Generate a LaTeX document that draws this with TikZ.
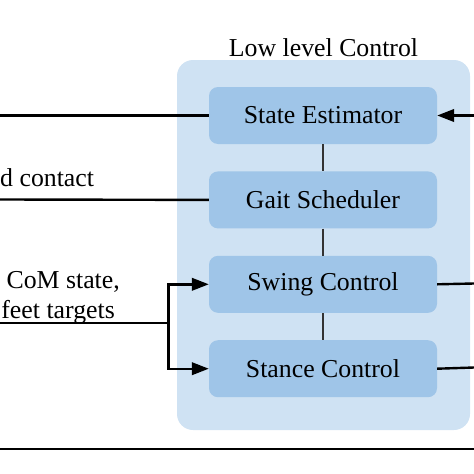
\documentclass[tikz,border=0pt]{standalone}
\usepackage{fontspec}
\setmainfont{Liberation Serif}
\usetikzlibrary{arrows.meta}
\usetikzlibrary{positioning}

\definecolor{panelblue}{HTML}{CFE2F3}
\definecolor{blockblue}{HTML}{9FC5E8}

\begin{document}
\begin{tikzpicture}[x=1pt,y=-1pt,node distance=27pt,>={Triangle[length=17pt,width=12.5pt]},
   font=\fontsize{25.8}{31}\selectfont,
   block/.style={fill=blockblue,rounded corners=9pt,minimum width=228pt,minimum height=57pt,inner sep=0pt},
   panel/.style={fill=panelblue,rounded corners=16pt,minimum width=293pt,minimum height=370pt,inner sep=0pt},
   wire/.style={line width=2.4pt},
   link/.style={line width=1.1pt,black!80}]
   \useasboundingbox (0,0) rectangle (474,474);
   \node[panel] (ctrl) at (323.5,245) {};
   \node[above=0pt of ctrl] (title) {Low level Control};
   \node[block]              (est)    at (323,115.5) {State Estimator};
   \node[block,below=of est]  (gait)   {Gait Scheduler};
   \node[block,below=of gait] (swing)  {Swing Control};
   \node[block,below=of swing] (stance) {Stance Control};
   % loose ends at the border
   \coordinate (estL)    at (0,115.5);
   \coordinate (estR)    at (474,115.5);
   \coordinate (gaitL)   at (0,199.5);
   \coordinate (tgtL)    at (0,323);
   \coordinate (split)   at (168.5,323);
   \coordinate (swingR)  at (474,283.5);
   \coordinate (stanceR) at (474,367.5);
   \coordinate (botL)    at (0,449);
   \coordinate (botR)    at (474,449);
   \node[anchor=base west,inner sep=0pt] (contact) at (0,186) {d contact};
   \node[anchor=base east,inner sep=0pt] (com)     at (120,288) {CoM state,};
   \node[anchor=base east,inner sep=0pt] (feet)    at (115,318) {feet targets};
   \draw[link] (est) -- (gait);
   \draw[link] (gait) -- (swing);
   \draw[link] (swing) -- (stance);
   \draw[wire] (est.west) -- (estL);
   \draw[wire] (gait.west) -- (gaitL);
   \draw[wire] (tgtL) -- (split);
   \draw[wire,->] (split) |- (swing.west);
   \draw[wire,->] (split) |- (stance.west);
   \draw[wire,->] (estR) -- (est.east);
   \draw[wire] (swing.east) -- (swingR);
   \draw[wire] (stance.east) -- (stanceR);
   \draw[wire] (botL) -- (botR);
\end{tikzpicture}
\end{document}
